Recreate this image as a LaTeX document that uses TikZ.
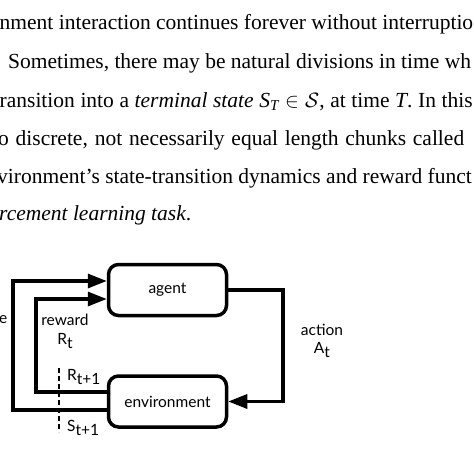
\documentclass[tikz,border=0pt]{standalone}
\usepackage{amsmath,amssymb}
\usepackage{fontspec}
\setmainfont{Liberation Serif}
\newfontfamily\diagfont{Lato}
\usepackage{tikz}
\usetikzlibrary{arrows.meta,calc}

\newcommand{\lowidx}[2]{#1\raisebox{-0.6ex}{#2}}

\begin{document}
\begin{tikzpicture}[x=1pt,y=-1pt,>={Triangle[length=19pt,width=14pt]},line join=miter]
  \useasboundingbox (0,0) rectangle (474,474);
  \clip (0,0) rectangle (474,474);
  \tikzset{
    txtline/.style={anchor=base west,inner sep=0pt,font=\fontsize{21.5}{25}\selectfont},
    blk/.style={draw,line width=3.5pt,rounded corners=10pt,minimum width=118pt,minimum height=51pt,
      inner sep=0pt,font=\diagfont\fontsize{15.5}{18}\selectfont},
    flow/.style={->,line width=3.3pt},
    lbl/.style={inner sep=0pt,font=\diagfont\fontsize{15.5}{18}\selectfont}
  }
  % text above the figure
  \node[txtline] (l1) at (-0.5,29) {nment interaction continues forever without interruptio};
  \node[txtline] (l2) at (8,68) {Sometimes, there may be natural divisions in time wh};
  \node[txtline] (l3) at (-0.5,107) {\hbox to 473pt{ransition into a \textit{terminal state} $\textit{S}_{\textit{T}} \in \mathcal{S}$, at time \textit{T}. In this}};
  \node[txtline] (l4) at (-2,145) {\hbox to 466pt{o discrete, not necessarily equal length chunks called}};
  \node[txtline] (l5) at (-3,183) {vironment's state-transition dynamics and reward funct};
  \node[txtline] (l6) at (-1,220) {\textit{rcement learning task}.};
  % the two boxes
  \node[blk] (agent) at (167.5,290) {agent};
  \node[blk] (env) at (167.5,401.5) {environment};
  % action
  \coordinate (ac) at (283,290);
  \draw[flow] (agent.east) -- (ac) |- (env.east);
  \node[lbl] (act) at (322,330) {action};
  \node[lbl] (actA) at (322,350) {\lowidx{A}{t}};
  % state and reward back to the agent
  \coordinate (st) at (13,410);
  \coordinate (sttop) at (13,281);
  \coordinate (rw) at (36,392);
  \coordinate (rwtop) at (36,299);
  \draw[flow] (env.west |- st) -- (st) |- (agent.west |- sttop);
  \draw[flow] (env.west |- rw) -- (rw) |- (agent.west |- rwtop);
  \node[lbl,anchor=east] (ste) at (7.5,320) {e};
  \node[lbl] (rwd) at (65,320) {reward};
  \node[lbl] (rwR) at (65,341) {\lowidx{R}{t}};
  % time step boundary
  \coordinate (dtop) at (59,368);
  \coordinate (dbot) at (59,432);
  \draw[line width=2.5pt,dash pattern=on 5pt off 3pt] (dtop) -- (dbot);
  \node[lbl,anchor=west] (rnext) at (67,377) {\lowidx{R}{t+1}};
  \node[lbl,anchor=west] (snext) at (67,428) {\lowidx{S}{t+1}};
\end{tikzpicture}
\end{document}
